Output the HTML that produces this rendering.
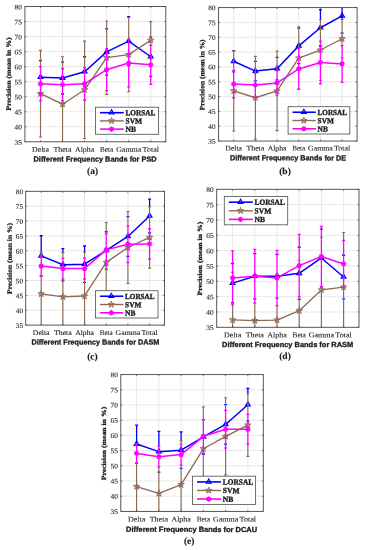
<!DOCTYPE html>
<html><head><meta charset="utf-8"><title>Precision figure</title>
<style>
html,body{margin:0;padding:0;background:#fff;}
svg{display:block;}
text{fill:#1a1a1a;stroke:#1a1a1a;stroke-width:0.15px;}
.tk{stroke-width:0.1px;}
.xl{stroke-width:0.3px;}.lg{stroke-width:0.35px;}.yl{stroke-width:0.25px;}
.tk{font-family:"Liberation Serif",serif;font-size:7.2px;}
.xl{font-family:"Liberation Sans",sans-serif;font-weight:bold;font-size:7.3px;}
.yl{font-family:"Liberation Serif",serif;font-weight:bold;font-size:6.6px;}
.lg{font-family:"Liberation Serif",serif;font-weight:bold;font-size:7.8px;}
.cap{font-family:"Liberation Serif",serif;font-weight:bold;font-size:9.5px;}
</style></head><body>
<svg width="366" height="550" viewBox="0 0 366 550">
<rect width="366" height="550" fill="#fff"/>
<clipPath id="clip_a"><rect x="24.9" y="6.55" width="140.9" height="135.25"/></clipPath>
<path d="M40.5 6.55V141.8M62.55 6.55V141.8M84.6 6.55V141.8M106.65 6.55V141.8M128.7 6.55V141.8M150.75 6.55V141.8M24.9 126.77H165.8M24.9 111.74H165.8M24.9 96.72H165.8M24.9 81.69H165.8M24.9 66.66H165.8M24.9 51.63H165.8M24.9 36.61H165.8M24.9 21.58H165.8" stroke="#e0e0e0" stroke-width="0.7" fill="none"/>
<g clip-path="url(#clip_a)">
<path d="M39 60.65H42M39 93.71H42M61.05 62.15H64.05M61.05 94.01H64.05M83.1 56.74H86.1M83.1 86.8H86.1M105.15 28.79H108.15M105.15 75.08H108.15M128.7 16.62V17.52M127.2 16.62H130.2M127.2 65.61H130.2M149.25 37.21H152.25M149.25 76.28H152.25" stroke="#0000ff" stroke-width="1.3" fill="none"/>
<polyline points="40.5,77.18 62.55,78.08 84.6,71.77 106.65,51.93 128.7,41.11 150.75,56.74" fill="none" stroke="#0000ff" stroke-width="1.5" stroke-linejoin="round"/>
<polygon points="40.5,74.18 38.05,78.48 42.95,78.48" fill="#0000ff" fill-opacity="0.45" stroke="#0000ff" stroke-width="1.1" stroke-linejoin="miter"/>
<polygon points="62.55,75.08 60.1,79.38 65,79.38" fill="#0000ff" fill-opacity="0.45" stroke="#0000ff" stroke-width="1.1" stroke-linejoin="miter"/>
<polygon points="84.6,68.77 82.15,73.07 87.05,73.07" fill="#0000ff" fill-opacity="0.45" stroke="#0000ff" stroke-width="1.1" stroke-linejoin="miter"/>
<polygon points="106.65,48.93 104.2,53.23 109.1,53.23" fill="#0000ff" fill-opacity="0.45" stroke="#0000ff" stroke-width="1.1" stroke-linejoin="miter"/>
<polygon points="128.7,38.11 126.25,42.41 131.15,42.41" fill="#0000ff" fill-opacity="0.45" stroke="#0000ff" stroke-width="1.1" stroke-linejoin="miter"/>
<polygon points="150.75,53.74 148.3,58.04 153.2,58.04" fill="#0000ff" fill-opacity="0.45" stroke="#0000ff" stroke-width="1.1" stroke-linejoin="miter"/>
</g>
<g clip-path="url(#clip_a)">
<path d="M40.5 50.43V66.66M40.5 100.92V136.99M39 50.43H42M39 136.99H42M62.55 56.74V68.77M62.55 100.62V151.72M61.05 56.74H64.05M61.05 151.72H64.05M84.6 41.11V67.56M84.6 100.02V138.49M83.1 41.11H86.1M83.1 138.49H86.1M106.65 20.98V48.63M106.65 90.71V94.31M105.15 20.98H108.15M105.15 94.31H108.15M128.7 17.52V39.31M128.7 86.8V91.76M127.2 17.52H130.2M127.2 91.76H130.2M150.75 21.58V45.32M149.25 21.58H152.25M149.25 58.85H152.25" stroke="#8d6a55" stroke-width="1.15" fill="none"/>
<polyline points="40.5,93.71 62.55,104.23 84.6,89.8 106.65,57.64 128.7,54.64 150.75,40.21" fill="none" stroke="#8d6a55" stroke-width="1.35" stroke-linejoin="round"/>
<polygon points="40.5,90.31 41.3,92.61 43.73,92.66 41.79,94.13 42.5,96.46 40.5,95.07 38.5,96.46 39.21,94.13 37.27,92.66 39.7,92.61" fill="#8d6a55" fill-opacity="0.5" stroke="#8d6a55" stroke-width="0.9" stroke-linejoin="miter"/>
<polygon points="62.55,100.83 63.35,103.13 65.78,103.18 63.84,104.65 64.55,106.98 62.55,105.59 60.55,106.98 61.26,104.65 59.32,103.18 61.75,103.13" fill="#8d6a55" fill-opacity="0.5" stroke="#8d6a55" stroke-width="0.9" stroke-linejoin="miter"/>
<polygon points="84.6,86.4 85.4,88.7 87.83,88.75 85.89,90.22 86.6,92.55 84.6,91.16 82.6,92.55 83.31,90.22 81.37,88.75 83.8,88.7" fill="#8d6a55" fill-opacity="0.5" stroke="#8d6a55" stroke-width="0.9" stroke-linejoin="miter"/>
<polygon points="106.65,54.24 107.45,56.54 109.88,56.59 107.94,58.06 108.65,60.4 106.65,59 104.65,60.4 105.36,58.06 103.42,56.59 105.85,56.54" fill="#8d6a55" fill-opacity="0.5" stroke="#8d6a55" stroke-width="0.9" stroke-linejoin="miter"/>
<polygon points="128.7,51.24 129.5,53.54 131.93,53.59 129.99,55.06 130.7,57.39 128.7,56 126.7,57.39 127.41,55.06 125.47,53.59 127.9,53.54" fill="#8d6a55" fill-opacity="0.5" stroke="#8d6a55" stroke-width="0.9" stroke-linejoin="miter"/>
<polygon points="150.75,36.81 151.55,39.11 153.98,39.16 152.04,40.63 152.75,42.96 150.75,41.57 148.75,42.96 149.46,40.63 147.52,39.16 149.95,39.11" fill="#8d6a55" fill-opacity="0.5" stroke="#8d6a55" stroke-width="0.9" stroke-linejoin="miter"/>
</g>
<g clip-path="url(#clip_a)">
<path d="M40.5 66.66V100.92M39 66.66H42M39 100.92H42M62.55 68.77V100.62M61.05 68.77H64.05M61.05 100.62H64.05M84.6 67.56V100.02M83.1 67.56H86.1M83.1 100.02H86.1M106.65 48.63V90.71M105.15 48.63H108.15M105.15 90.71H108.15M128.7 39.31V86.8M127.2 39.31H130.2M127.2 86.8H130.2M150.75 45.32V84.39M149.25 45.32H152.25M149.25 84.39H152.25" stroke="#ff00ff" stroke-width="1.3" fill="none"/>
<polyline points="40.5,83.79 62.55,84.69 84.6,83.79 106.65,69.67 128.7,63.05 150.75,64.86" fill="none" stroke="#ff00ff" stroke-width="1.5" stroke-linejoin="round"/>
<path d="M40.5 81.09V86.49M37.8 83.79H43.2M38.59 81.88L42.41 85.7M38.59 85.7L42.41 81.88" stroke="#ff00ff" stroke-width="1.3" fill="none"/>
<path d="M62.55 81.99V87.39M59.85 84.69H65.25M60.64 82.79L64.46 86.6M60.64 86.6L64.46 82.79" stroke="#ff00ff" stroke-width="1.3" fill="none"/>
<path d="M84.6 81.09V86.49M81.9 83.79H87.3M82.69 81.88L86.51 85.7M82.69 85.7L86.51 81.88" stroke="#ff00ff" stroke-width="1.3" fill="none"/>
<path d="M106.65 66.97V72.37M103.95 69.67H109.35M104.74 67.76L108.56 71.58M104.74 71.58L108.56 67.76" stroke="#ff00ff" stroke-width="1.3" fill="none"/>
<path d="M128.7 60.35V65.75M126 63.05H131.4M126.79 61.15L130.61 64.96M126.79 64.96L130.61 61.15" stroke="#ff00ff" stroke-width="1.3" fill="none"/>
<path d="M150.75 62.16V67.56M148.05 64.86H153.45M148.84 62.95L152.66 66.77M148.84 66.77L152.66 62.95" stroke="#ff00ff" stroke-width="1.3" fill="none"/>
</g>
<path d="M40.5 141.8V140.3M40.5 6.55V8.05M62.55 141.8V140.3M62.55 6.55V8.05M84.6 141.8V140.3M84.6 6.55V8.05M106.65 141.8V140.3M106.65 6.55V8.05M128.7 141.8V140.3M128.7 6.55V8.05M150.75 141.8V140.3M150.75 6.55V8.05M24.9 141.8H26.4M165.8 141.8H164.3M24.9 126.77H26.4M165.8 126.77H164.3M24.9 111.74H26.4M165.8 111.74H164.3M24.9 96.72H26.4M165.8 96.72H164.3M24.9 81.69H26.4M165.8 81.69H164.3M24.9 66.66H26.4M165.8 66.66H164.3M24.9 51.63H26.4M165.8 51.63H164.3M24.9 36.61H26.4M165.8 36.61H164.3M24.9 21.58H26.4M165.8 21.58H164.3M24.9 6.55H26.4M165.8 6.55H164.3" stroke="#444444" stroke-width="0.7" fill="none"/>
<rect x="24.9" y="6.55" width="140.9" height="135.25" fill="none" stroke="#444444" stroke-width="0.9"/>
<text class="tk" transform="translate(14.62 144.65) rotate(0.05)" textLength="7.28" lengthAdjust="spacingAndGlyphs">35</text>
<text class="tk" transform="translate(14.62 129.62) rotate(0.05)" textLength="7.28" lengthAdjust="spacingAndGlyphs">40</text>
<text class="tk" transform="translate(14.62 114.59) rotate(0.05)" textLength="7.28" lengthAdjust="spacingAndGlyphs">45</text>
<text class="tk" transform="translate(14.62 99.57) rotate(0.05)" textLength="7.28" lengthAdjust="spacingAndGlyphs">50</text>
<text class="tk" transform="translate(14.62 84.54) rotate(0.05)" textLength="7.28" lengthAdjust="spacingAndGlyphs">55</text>
<text class="tk" transform="translate(14.62 69.51) rotate(0.05)" textLength="7.28" lengthAdjust="spacingAndGlyphs">60</text>
<text class="tk" transform="translate(14.62 54.48) rotate(0.05)" textLength="7.28" lengthAdjust="spacingAndGlyphs">65</text>
<text class="tk" transform="translate(14.62 39.46) rotate(0.05)" textLength="7.28" lengthAdjust="spacingAndGlyphs">70</text>
<text class="tk" transform="translate(14.62 24.43) rotate(0.05)" textLength="7.28" lengthAdjust="spacingAndGlyphs">75</text>
<text class="tk" transform="translate(14.62 9.4) rotate(0.05)" textLength="7.28" lengthAdjust="spacingAndGlyphs">80</text>
<text class="tk" transform="translate(32.02 151.7) rotate(0.05)" textLength="16.95" lengthAdjust="spacingAndGlyphs">Delta</text>
<text class="tk" transform="translate(53.53 151.7) rotate(0.05)" textLength="18.05" lengthAdjust="spacingAndGlyphs">Theta</text>
<text class="tk" transform="translate(75.03 151.7) rotate(0.05)" textLength="19.15" lengthAdjust="spacingAndGlyphs">Alpha</text>
<text class="tk" transform="translate(100.07 151.7) rotate(0.05)" textLength="13.16" lengthAdjust="spacingAndGlyphs">Beta</text>
<text class="tk" transform="translate(116.14 151.7) rotate(0.05)" textLength="25.13" lengthAdjust="spacingAndGlyphs">Gamma</text>
<text class="tk" transform="translate(142.57 151.7) rotate(0.05)" textLength="16.35" lengthAdjust="spacingAndGlyphs">Total</text>
<text class="xl" transform="translate(33.55 161.5) rotate(0.05)" textLength="123.1" lengthAdjust="spacingAndGlyphs">Different Frequency Bands for PSD</text>
<text class="yl" transform="translate(10.7 74.15) rotate(-90.05)" x="-36.7" textLength="73.4" lengthAdjust="spacingAndGlyphs">Precision (mean in %)</text>
<text class="cap" transform="translate(92.5 174) rotate(0.05)" text-anchor="middle">(a)</text>
<rect x="95.5" y="107.2" width="63.1" height="27.1" fill="#fff" stroke="#565656" stroke-width="0.85"/>
<path d="M99.99 112.7H123.72" stroke="#0000ff" stroke-width="1.6"/>
<polygon points="111.55,109.7 109.1,114 114,114" fill="#0000ff" fill-opacity="0.15" stroke="#0000ff" stroke-width="1.1" stroke-linejoin="miter"/>
<text class="lg" transform="translate(125.51 115.35) rotate(0.05)" textLength="29.92" lengthAdjust="spacingAndGlyphs">LORSAL</text>
<path d="M99.99 120.91H123.72" stroke="#8d6a55" stroke-width="1.4"/>
<polygon points="111.55,117.51 112.35,119.81 114.79,119.86 112.85,121.33 113.55,123.66 111.55,122.27 109.56,123.66 110.26,121.33 108.32,119.86 110.76,119.81" fill="#8d6a55" fill-opacity="0.5" stroke="#8d6a55" stroke-width="0.9" stroke-linejoin="miter"/>
<text class="lg" transform="translate(125.51 123.56) rotate(0.05)" textLength="16.55" lengthAdjust="spacingAndGlyphs">SVM</text>
<path d="M99.99 129.12H123.72" stroke="#ff00ff" stroke-width="1.6"/>
<path d="M111.55 126.42V131.82M108.85 129.12H114.25M109.65 127.21L113.46 131.03M109.65 131.03L113.46 127.21" stroke="#ff00ff" stroke-width="1.3" fill="none"/>
<text class="lg" transform="translate(125.51 131.77) rotate(0.05)" textLength="10.47" lengthAdjust="spacingAndGlyphs">NB</text>
<clipPath id="clip_b"><rect x="218.6" y="7.6" width="138.5" height="133.45"/></clipPath>
<path d="M233.7 7.6V141.05M255.38 7.6V141.05M277.06 7.6V141.05M298.74 7.6V141.05M320.42 7.6V141.05M342.1 7.6V141.05M218.6 126.22H357.1M218.6 111.39H357.1M218.6 96.57H357.1M218.6 81.74H357.1M218.6 66.91H357.1M218.6 52.08H357.1M218.6 37.26H357.1M218.6 22.43H357.1" stroke="#e0e0e0" stroke-width="0.7" fill="none"/>
<g clip-path="url(#clip_b)">
<path d="M233.7 50.6V50.9M232.2 50.6H235.2M232.2 71.95H235.2M253.88 61.28H256.88M253.88 80.85H256.88M275.56 57.42H278.56M275.56 79.96H278.56M297.24 28.06H300.24M297.24 63.65H300.24M320.42 9.53V19.76M318.92 9.53H321.92M318.92 46H321.92M342.1 -1.3V19.46M340.6 -1.3H343.6M340.6 33.1H343.6" stroke="#0000ff" stroke-width="1.3" fill="none"/>
<polyline points="233.7,61.28 255.38,71.06 277.06,68.69 298.74,45.86 320.42,27.77 342.1,15.9" fill="none" stroke="#0000ff" stroke-width="1.5" stroke-linejoin="round"/>
<polygon points="233.7,58.28 231.25,62.58 236.15,62.58" fill="#0000ff" fill-opacity="0.45" stroke="#0000ff" stroke-width="1.1" stroke-linejoin="miter"/>
<polygon points="255.38,68.06 252.93,72.36 257.83,72.36" fill="#0000ff" fill-opacity="0.45" stroke="#0000ff" stroke-width="1.1" stroke-linejoin="miter"/>
<polygon points="277.06,65.69 274.61,69.99 279.51,69.99" fill="#0000ff" fill-opacity="0.45" stroke="#0000ff" stroke-width="1.1" stroke-linejoin="miter"/>
<polygon points="298.74,42.86 296.29,47.16 301.19,47.16" fill="#0000ff" fill-opacity="0.45" stroke="#0000ff" stroke-width="1.1" stroke-linejoin="miter"/>
<polygon points="320.42,24.77 317.97,29.07 322.87,29.07" fill="#0000ff" fill-opacity="0.45" stroke="#0000ff" stroke-width="1.1" stroke-linejoin="miter"/>
<polygon points="342.1,12.9 339.65,17.2 344.55,17.2" fill="#0000ff" fill-opacity="0.45" stroke="#0000ff" stroke-width="1.1" stroke-linejoin="miter"/>
</g>
<g clip-path="url(#clip_b)">
<path d="M233.7 50.9V70.47M233.7 97.75V130.97M232.2 50.9H235.2M232.2 130.97H235.2M255.38 56.24V73.14M255.38 96.86V139.27M253.88 56.24H256.88M253.88 139.27H256.88M277.06 51.19V70.77M277.06 95.08V130.67M275.56 51.19H278.56M275.56 130.67H278.56M298.74 26.88V48.52M297.24 26.88H300.24M297.24 89.15H300.24M320.42 19.76V41.11M318.92 19.76H321.92M318.92 80.26H321.92M342.1 19.46V45.56M340.6 19.46H343.6M340.6 58.01H343.6" stroke="#8d6a55" stroke-width="1.15" fill="none"/>
<polyline points="233.7,90.93 255.38,97.75 277.06,90.93 298.74,58.01 320.42,50.01 342.1,38.74" fill="none" stroke="#8d6a55" stroke-width="1.35" stroke-linejoin="round"/>
<polygon points="233.7,87.53 234.5,89.83 236.93,89.88 234.99,91.35 235.7,93.68 233.7,92.29 231.7,93.68 232.41,91.35 230.47,89.88 232.9,89.83" fill="#8d6a55" fill-opacity="0.5" stroke="#8d6a55" stroke-width="0.9" stroke-linejoin="miter"/>
<polygon points="255.38,94.35 256.18,96.65 258.61,96.7 256.67,98.17 257.38,100.5 255.38,99.11 253.38,100.5 254.09,98.17 252.15,96.7 254.58,96.65" fill="#8d6a55" fill-opacity="0.5" stroke="#8d6a55" stroke-width="0.9" stroke-linejoin="miter"/>
<polygon points="277.06,87.53 277.86,89.83 280.29,89.88 278.35,91.35 279.06,93.68 277.06,92.29 275.06,93.68 275.77,91.35 273.83,89.88 276.26,89.83" fill="#8d6a55" fill-opacity="0.5" stroke="#8d6a55" stroke-width="0.9" stroke-linejoin="miter"/>
<polygon points="298.74,54.61 299.54,56.91 301.97,56.96 300.03,58.43 300.74,60.77 298.74,59.37 296.74,60.77 297.45,58.43 295.51,56.96 297.94,56.91" fill="#8d6a55" fill-opacity="0.5" stroke="#8d6a55" stroke-width="0.9" stroke-linejoin="miter"/>
<polygon points="320.42,46.61 321.22,48.91 323.65,48.96 321.71,50.43 322.42,52.76 320.42,51.37 318.42,52.76 319.13,50.43 317.19,48.96 319.62,48.91" fill="#8d6a55" fill-opacity="0.5" stroke="#8d6a55" stroke-width="0.9" stroke-linejoin="miter"/>
<polygon points="342.1,35.34 342.9,37.64 345.33,37.69 343.39,39.16 344.1,41.49 342.1,40.1 340.1,41.49 340.81,39.16 338.87,37.69 341.3,37.64" fill="#8d6a55" fill-opacity="0.5" stroke="#8d6a55" stroke-width="0.9" stroke-linejoin="miter"/>
</g>
<g clip-path="url(#clip_b)">
<path d="M233.7 70.47V97.75M232.2 70.47H235.2M232.2 97.75H235.2M255.38 73.14V96.86M253.88 73.14H256.88M253.88 96.86H256.88M277.06 70.77V95.08M275.56 70.77H278.56M275.56 95.08H278.56M298.74 48.52V89.45M297.24 48.52H300.24M297.24 89.45H300.24M320.42 41.11V83.81M318.92 41.11H321.92M318.92 83.81H321.92M342.1 45.56V82.33M340.6 45.56H343.6M340.6 82.33H343.6" stroke="#ff00ff" stroke-width="1.3" fill="none"/>
<polyline points="233.7,84.11 255.38,85 277.06,82.93 298.74,68.99 320.42,62.46 342.1,63.95" fill="none" stroke="#ff00ff" stroke-width="1.5" stroke-linejoin="round"/>
<path d="M233.7 81.41V86.81M231 84.11H236.4M231.79 82.2L235.61 86.02M231.79 86.02L235.61 82.2" stroke="#ff00ff" stroke-width="1.3" fill="none"/>
<path d="M255.38 82.3V87.7M252.68 85H258.08M253.47 83.09L257.29 86.91M253.47 86.91L257.29 83.09" stroke="#ff00ff" stroke-width="1.3" fill="none"/>
<path d="M277.06 80.23V85.63M274.36 82.93H279.76M275.15 81.02L278.97 84.83M275.15 84.83L278.97 81.02" stroke="#ff00ff" stroke-width="1.3" fill="none"/>
<path d="M298.74 66.29V71.69M296.04 68.99H301.44M296.83 67.08L300.65 70.9M296.83 70.9L300.65 67.08" stroke="#ff00ff" stroke-width="1.3" fill="none"/>
<path d="M320.42 59.76V65.16M317.72 62.46H323.12M318.51 60.55L322.33 64.37M318.51 64.37L322.33 60.55" stroke="#ff00ff" stroke-width="1.3" fill="none"/>
<path d="M342.1 61.25V66.65M339.4 63.95H344.8M340.19 62.04L344.01 65.85M340.19 65.85L344.01 62.04" stroke="#ff00ff" stroke-width="1.3" fill="none"/>
</g>
<path d="M233.7 141.05V139.55M233.7 7.6V9.1M255.38 141.05V139.55M255.38 7.6V9.1M277.06 141.05V139.55M277.06 7.6V9.1M298.74 141.05V139.55M298.74 7.6V9.1M320.42 141.05V139.55M320.42 7.6V9.1M342.1 141.05V139.55M342.1 7.6V9.1M218.6 141.05H220.1M357.1 141.05H355.6M218.6 126.22H220.1M357.1 126.22H355.6M218.6 111.39H220.1M357.1 111.39H355.6M218.6 96.57H220.1M357.1 96.57H355.6M218.6 81.74H220.1M357.1 81.74H355.6M218.6 66.91H220.1M357.1 66.91H355.6M218.6 52.08H220.1M357.1 52.08H355.6M218.6 37.26H220.1M357.1 37.26H355.6M218.6 22.43H220.1M357.1 22.43H355.6M218.6 7.6H220.1M357.1 7.6H355.6" stroke="#444444" stroke-width="0.7" fill="none"/>
<rect x="218.6" y="7.6" width="138.5" height="133.45" fill="none" stroke="#444444" stroke-width="0.9"/>
<text class="tk" transform="translate(208.34 143.75) rotate(0.05)" textLength="7.16" lengthAdjust="spacingAndGlyphs">35</text>
<text class="tk" transform="translate(208.34 128.92) rotate(0.05)" textLength="7.16" lengthAdjust="spacingAndGlyphs">40</text>
<text class="tk" transform="translate(208.34 114.09) rotate(0.05)" textLength="7.16" lengthAdjust="spacingAndGlyphs">45</text>
<text class="tk" transform="translate(208.34 99.27) rotate(0.05)" textLength="7.16" lengthAdjust="spacingAndGlyphs">50</text>
<text class="tk" transform="translate(208.34 84.44) rotate(0.05)" textLength="7.16" lengthAdjust="spacingAndGlyphs">55</text>
<text class="tk" transform="translate(208.34 69.61) rotate(0.05)" textLength="7.16" lengthAdjust="spacingAndGlyphs">60</text>
<text class="tk" transform="translate(208.34 54.78) rotate(0.05)" textLength="7.16" lengthAdjust="spacingAndGlyphs">65</text>
<text class="tk" transform="translate(208.34 39.96) rotate(0.05)" textLength="7.16" lengthAdjust="spacingAndGlyphs">70</text>
<text class="tk" transform="translate(208.34 25.13) rotate(0.05)" textLength="7.16" lengthAdjust="spacingAndGlyphs">75</text>
<text class="tk" transform="translate(208.34 10.3) rotate(0.05)" textLength="7.16" lengthAdjust="spacingAndGlyphs">80</text>
<text class="tk" transform="translate(225.37 150.6) rotate(0.05)" textLength="16.66" lengthAdjust="spacingAndGlyphs">Delta</text>
<text class="tk" transform="translate(246.51 150.6) rotate(0.05)" textLength="17.74" lengthAdjust="spacingAndGlyphs">Theta</text>
<text class="tk" transform="translate(267.65 150.6) rotate(0.05)" textLength="18.82" lengthAdjust="spacingAndGlyphs">Alpha</text>
<text class="tk" transform="translate(292.27 150.6) rotate(0.05)" textLength="12.94" lengthAdjust="spacingAndGlyphs">Beta</text>
<text class="tk" transform="translate(308.07 150.6) rotate(0.05)" textLength="24.7" lengthAdjust="spacingAndGlyphs">Gamma</text>
<text class="tk" transform="translate(334.06 150.6) rotate(0.05)" textLength="16.08" lengthAdjust="spacingAndGlyphs">Total</text>
<text class="xl" transform="translate(229.9 160.3) rotate(0.05)" textLength="116.2" lengthAdjust="spacingAndGlyphs">Different Frequency Bands for DE</text>
<text class="yl" transform="translate(204.2 74.8) rotate(-90.05)" x="-35.4" textLength="70.8" lengthAdjust="spacingAndGlyphs">Precision (mean in %)</text>
<text class="cap" transform="translate(285 174.3) rotate(0.05)" text-anchor="middle">(b)</text>
<rect x="288.1" y="106.7" width="61.7" height="27.3" fill="#fff" stroke="#565656" stroke-width="0.85"/>
<path d="M292.51 112.24H315.84" stroke="#0000ff" stroke-width="1.6"/>
<polygon points="303.88,109.24 301.43,113.54 306.33,113.54" fill="#0000ff" fill-opacity="0.15" stroke="#0000ff" stroke-width="1.1" stroke-linejoin="miter"/>
<text class="lg" transform="translate(317.6 114.89) rotate(0.05)" textLength="29.41" lengthAdjust="spacingAndGlyphs">LORSAL</text>
<path d="M292.51 120.51H315.84" stroke="#8d6a55" stroke-width="1.4"/>
<polygon points="303.88,117.11 304.68,119.41 307.11,119.46 305.17,120.93 305.88,123.26 303.88,121.87 301.88,123.26 302.59,120.93 300.65,119.46 303.08,119.41" fill="#8d6a55" fill-opacity="0.5" stroke="#8d6a55" stroke-width="0.9" stroke-linejoin="miter"/>
<text class="lg" transform="translate(317.6 123.16) rotate(0.05)" textLength="16.27" lengthAdjust="spacingAndGlyphs">SVM</text>
<path d="M292.51 128.79H315.84" stroke="#ff00ff" stroke-width="1.6"/>
<path d="M303.88 126.09V131.49M301.18 128.79H306.58M301.97 126.88L305.79 130.69M301.97 130.69L305.79 126.88" stroke="#ff00ff" stroke-width="1.3" fill="none"/>
<text class="lg" transform="translate(317.6 131.44) rotate(0.05)" textLength="10.29" lengthAdjust="spacingAndGlyphs">NB</text>
<clipPath id="clip_c"><rect x="25.7" y="191.3" width="138.8" height="133.8"/></clipPath>
<path d="M41.2 191.3V325.1M62.88 191.3V325.1M84.56 191.3V325.1M106.24 191.3V325.1M127.92 191.3V325.1M149.6 191.3V325.1M25.7 310.23H164.5M25.7 295.37H164.5M25.7 280.5H164.5M25.7 265.63H164.5M25.7 250.77H164.5M25.7 235.9H164.5M25.7 221.03H164.5M25.7 206.17H164.5" stroke="#e0e0e0" stroke-width="0.7" fill="none"/>
<g clip-path="url(#clip_c)">
<path d="M41.2 235.75V252.25M39.7 235.75H42.7M39.7 275.89H42.7M62.88 248.69V252.55M61.38 248.69H64.38M61.38 280.8H64.38M84.56 246.01V252.25M83.06 246.01H86.06M83.06 282.28H86.06M104.74 231.74H107.74M104.74 269.2H107.74M126.42 216.57H129.42M126.42 256.42H129.42M149.6 199.03V206.61M148.1 199.03H151.1M148.1 232.93H151.1" stroke="#0000ff" stroke-width="1.3" fill="none"/>
<polyline points="41.2,255.82 62.88,264.74 84.56,264.15 106.24,250.47 127.92,236.49 149.6,215.98" fill="none" stroke="#0000ff" stroke-width="1.5" stroke-linejoin="round"/>
<polygon points="41.2,252.82 38.75,257.12 43.65,257.12" fill="#0000ff" fill-opacity="0.45" stroke="#0000ff" stroke-width="1.1" stroke-linejoin="miter"/>
<polygon points="62.88,261.74 60.43,266.04 65.33,266.04" fill="#0000ff" fill-opacity="0.45" stroke="#0000ff" stroke-width="1.1" stroke-linejoin="miter"/>
<polygon points="84.56,261.15 82.11,265.45 87.01,265.45" fill="#0000ff" fill-opacity="0.45" stroke="#0000ff" stroke-width="1.1" stroke-linejoin="miter"/>
<polygon points="106.24,247.47 103.79,251.77 108.69,251.77" fill="#0000ff" fill-opacity="0.45" stroke="#0000ff" stroke-width="1.1" stroke-linejoin="miter"/>
<polygon points="127.92,233.49 125.47,237.79 130.37,237.79" fill="#0000ff" fill-opacity="0.45" stroke="#0000ff" stroke-width="1.1" stroke-linejoin="miter"/>
<polygon points="149.6,212.98 147.15,217.28 152.05,217.28" fill="#0000ff" fill-opacity="0.45" stroke="#0000ff" stroke-width="1.1" stroke-linejoin="miter"/>
</g>
<g clip-path="url(#clip_c)">
<path d="M41.2 252.25V256.12M41.2 276.04V335.51M39.7 252.25H42.7M39.7 335.51H42.7M62.88 252.55V258.2M62.88 279.01V341.16M61.38 252.55H64.38M61.38 341.16H64.38M84.56 252.25V258.2M84.56 279.01V339.67M83.06 252.25H86.06M83.06 339.67H86.06M106.24 222.52V233.97M106.24 265.78V302.21M104.74 222.52H107.74M104.74 302.21H107.74M127.92 211.52V225.79M127.92 262.66V283.47M126.42 211.52H129.42M126.42 283.47H129.42M149.6 206.61V228.76M149.6 259.09V268.16M148.1 206.61H151.1M148.1 268.16H151.1" stroke="#8d6a55" stroke-width="1.15" fill="none"/>
<polyline points="41.2,293.88 62.88,296.85 84.56,295.96 106.24,262.36 127.92,247.5 149.6,237.39" fill="none" stroke="#8d6a55" stroke-width="1.35" stroke-linejoin="round"/>
<polygon points="41.2,290.48 42,292.78 44.43,292.83 42.49,294.3 43.2,296.63 41.2,295.24 39.2,296.63 39.91,294.3 37.97,292.83 40.4,292.78" fill="#8d6a55" fill-opacity="0.5" stroke="#8d6a55" stroke-width="0.9" stroke-linejoin="miter"/>
<polygon points="62.88,293.45 63.68,295.75 66.11,295.8 64.17,297.27 64.88,299.6 62.88,298.21 60.88,299.6 61.59,297.27 59.65,295.8 62.08,295.75" fill="#8d6a55" fill-opacity="0.5" stroke="#8d6a55" stroke-width="0.9" stroke-linejoin="miter"/>
<polygon points="84.56,292.56 85.36,294.86 87.79,294.91 85.85,296.38 86.56,298.71 84.56,297.32 82.56,298.71 83.27,296.38 81.33,294.91 83.76,294.86" fill="#8d6a55" fill-opacity="0.5" stroke="#8d6a55" stroke-width="0.9" stroke-linejoin="miter"/>
<polygon points="106.24,258.96 107.04,261.26 109.47,261.31 107.53,262.78 108.24,265.11 106.24,263.72 104.24,265.11 104.95,262.78 103.01,261.31 105.44,261.26" fill="#8d6a55" fill-opacity="0.5" stroke="#8d6a55" stroke-width="0.9" stroke-linejoin="miter"/>
<polygon points="127.92,244.1 128.72,246.4 131.15,246.45 129.21,247.92 129.92,250.25 127.92,248.86 125.92,250.25 126.63,247.92 124.69,246.45 127.12,246.4" fill="#8d6a55" fill-opacity="0.5" stroke="#8d6a55" stroke-width="0.9" stroke-linejoin="miter"/>
<polygon points="149.6,233.99 150.4,236.29 152.83,236.34 150.89,237.81 151.6,240.14 149.6,238.75 147.6,240.14 148.31,237.81 146.37,236.34 148.8,236.29" fill="#8d6a55" fill-opacity="0.5" stroke="#8d6a55" stroke-width="0.9" stroke-linejoin="miter"/>
</g>
<g clip-path="url(#clip_c)">
<path d="M41.2 256.12V276.04M39.7 256.12H42.7M39.7 276.04H42.7M62.88 258.2V279.01M61.38 258.2H64.38M61.38 279.01H64.38M84.56 258.2V279.01M83.06 258.2H86.06M83.06 279.01H86.06M106.24 233.97V265.78M104.74 233.97H107.74M104.74 265.78H107.74M127.92 225.79V262.66M126.42 225.79H129.42M126.42 262.66H129.42M149.6 228.76V259.09M148.1 228.76H151.1M148.1 259.09H151.1" stroke="#ff00ff" stroke-width="1.3" fill="none"/>
<polyline points="41.2,266.08 62.88,268.61 84.56,268.61 106.24,249.87 127.92,244.23 149.6,243.93" fill="none" stroke="#ff00ff" stroke-width="1.5" stroke-linejoin="round"/>
<path d="M41.2 263.38V268.78M38.5 266.08H43.9M39.29 264.17L43.11 267.99M39.29 267.99L43.11 264.17" stroke="#ff00ff" stroke-width="1.3" fill="none"/>
<path d="M62.88 265.91V271.31M60.18 268.61H65.58M60.97 266.7L64.79 270.52M60.97 270.52L64.79 266.7" stroke="#ff00ff" stroke-width="1.3" fill="none"/>
<path d="M84.56 265.91V271.31M81.86 268.61H87.26M82.65 266.7L86.47 270.52M82.65 270.52L86.47 266.7" stroke="#ff00ff" stroke-width="1.3" fill="none"/>
<path d="M106.24 247.17V252.57M103.54 249.87H108.94M104.33 247.97L108.15 251.78M104.33 251.78L108.15 247.97" stroke="#ff00ff" stroke-width="1.3" fill="none"/>
<path d="M127.92 241.53V246.93M125.22 244.23H130.62M126.01 242.32L129.83 246.13M126.01 246.13L129.83 242.32" stroke="#ff00ff" stroke-width="1.3" fill="none"/>
<path d="M149.6 241.23V246.63M146.9 243.93H152.3M147.69 242.02L151.51 245.84M147.69 245.84L151.51 242.02" stroke="#ff00ff" stroke-width="1.3" fill="none"/>
</g>
<path d="M41.2 325.1V323.6M41.2 191.3V192.8M62.88 325.1V323.6M62.88 191.3V192.8M84.56 325.1V323.6M84.56 191.3V192.8M106.24 325.1V323.6M106.24 191.3V192.8M127.92 325.1V323.6M127.92 191.3V192.8M149.6 325.1V323.6M149.6 191.3V192.8M25.7 325.1H27.2M164.5 325.1H163M25.7 310.23H27.2M164.5 310.23H163M25.7 295.37H27.2M164.5 295.37H163M25.7 280.5H27.2M164.5 280.5H163M25.7 265.63H27.2M164.5 265.63H163M25.7 250.77H27.2M164.5 250.77H163M25.7 235.9H27.2M164.5 235.9H163M25.7 221.03H27.2M164.5 221.03H163M25.7 206.17H27.2M164.5 206.17H163M25.7 191.3H27.2M164.5 191.3H163" stroke="#444444" stroke-width="0.7" fill="none"/>
<rect x="25.7" y="191.3" width="138.8" height="133.8" fill="none" stroke="#444444" stroke-width="0.9"/>
<text class="tk" transform="translate(15.83 328.05) rotate(0.05)" textLength="7.17" lengthAdjust="spacingAndGlyphs">35</text>
<text class="tk" transform="translate(15.83 313.18) rotate(0.05)" textLength="7.17" lengthAdjust="spacingAndGlyphs">40</text>
<text class="tk" transform="translate(15.83 298.32) rotate(0.05)" textLength="7.17" lengthAdjust="spacingAndGlyphs">45</text>
<text class="tk" transform="translate(15.83 283.45) rotate(0.05)" textLength="7.17" lengthAdjust="spacingAndGlyphs">50</text>
<text class="tk" transform="translate(15.83 268.58) rotate(0.05)" textLength="7.17" lengthAdjust="spacingAndGlyphs">55</text>
<text class="tk" transform="translate(15.83 253.72) rotate(0.05)" textLength="7.17" lengthAdjust="spacingAndGlyphs">60</text>
<text class="tk" transform="translate(15.83 238.85) rotate(0.05)" textLength="7.17" lengthAdjust="spacingAndGlyphs">65</text>
<text class="tk" transform="translate(15.83 223.98) rotate(0.05)" textLength="7.17" lengthAdjust="spacingAndGlyphs">70</text>
<text class="tk" transform="translate(15.83 209.12) rotate(0.05)" textLength="7.17" lengthAdjust="spacingAndGlyphs">75</text>
<text class="tk" transform="translate(15.83 194.25) rotate(0.05)" textLength="7.17" lengthAdjust="spacingAndGlyphs">80</text>
<text class="tk" transform="translate(32.85 334.9) rotate(0.05)" textLength="16.7" lengthAdjust="spacingAndGlyphs">Delta</text>
<text class="tk" transform="translate(53.99 334.9) rotate(0.05)" textLength="17.78" lengthAdjust="spacingAndGlyphs">Theta</text>
<text class="tk" transform="translate(75.13 334.9) rotate(0.05)" textLength="18.86" lengthAdjust="spacingAndGlyphs">Alpha</text>
<text class="tk" transform="translate(99.76 334.9) rotate(0.05)" textLength="12.97" lengthAdjust="spacingAndGlyphs">Beta</text>
<text class="tk" transform="translate(115.54 334.9) rotate(0.05)" textLength="24.75" lengthAdjust="spacingAndGlyphs">Gamma</text>
<text class="tk" transform="translate(141.55 334.9) rotate(0.05)" textLength="16.11" lengthAdjust="spacingAndGlyphs">Total</text>
<text class="xl" transform="translate(31.4 344.4) rotate(0.05)" textLength="128" lengthAdjust="spacingAndGlyphs">Different Frequency Bands for DASM</text>
<text class="yl" transform="translate(11.8 258.6) rotate(-90.05)" x="-35.5" textLength="71" lengthAdjust="spacingAndGlyphs">Precision (mean in %)</text>
<text class="cap" transform="translate(92.4 359.6) rotate(0.05)" text-anchor="middle">(c)</text>
<rect x="95.5" y="290.7" width="62.5" height="27.3" fill="#fff" stroke="#565656" stroke-width="0.85"/>
<path d="M99.92 296.24H123.3" stroke="#0000ff" stroke-width="1.6"/>
<polygon points="111.32,293.24 108.87,297.54 113.77,297.54" fill="#0000ff" fill-opacity="0.15" stroke="#0000ff" stroke-width="1.1" stroke-linejoin="miter"/>
<text class="lg" transform="translate(125.07 298.89) rotate(0.05)" textLength="29.47" lengthAdjust="spacingAndGlyphs">LORSAL</text>
<path d="M99.92 304.51H123.3" stroke="#8d6a55" stroke-width="1.4"/>
<polygon points="111.32,301.11 112.11,303.41 114.55,303.46 112.61,304.93 113.31,307.26 111.32,305.87 109.32,307.26 110.02,304.93 108.08,303.46 110.52,303.41" fill="#8d6a55" fill-opacity="0.5" stroke="#8d6a55" stroke-width="0.9" stroke-linejoin="miter"/>
<text class="lg" transform="translate(125.07 307.16) rotate(0.05)" textLength="16.31" lengthAdjust="spacingAndGlyphs">SVM</text>
<path d="M99.92 312.79H123.3" stroke="#ff00ff" stroke-width="1.6"/>
<path d="M111.32 310.09V315.49M108.62 312.79H114.02M109.41 310.88L113.22 314.69M109.41 314.69L113.22 310.88" stroke="#ff00ff" stroke-width="1.3" fill="none"/>
<text class="lg" transform="translate(125.07 315.44) rotate(0.05)" textLength="10.31" lengthAdjust="spacingAndGlyphs">NB</text>
<clipPath id="clip_d"><rect x="216.7" y="189.3" width="142.3" height="138"/></clipPath>
<path d="M232.6 189.3V327.3M254.8 189.3V327.3M277 189.3V327.3M299.2 189.3V327.3M321.4 189.3V327.3M343.6 189.3V327.3M216.7 311.97H359M216.7 296.63H359M216.7 281.3H359M216.7 265.97H359M216.7 250.63H359M216.7 235.3H359M216.7 219.97H359M216.7 204.63H359" stroke="#e0e0e0" stroke-width="0.7" fill="none"/>
<g clip-path="url(#clip_d)">
<path d="M231.1 263.51H234.1M231.1 302.77H234.1M253.3 253.7H256.3M253.3 298.78H256.3M275.5 254.31H278.5M275.5 298.17H278.5M297.7 247.26H300.7M297.7 299.39H300.7M319.9 229.17H322.9M319.9 286.82H322.9M342.1 255.23H345.1M342.1 298.78H345.1" stroke="#0000ff" stroke-width="1.3" fill="none"/>
<polyline points="232.6,283.14 254.8,276.24 277,276.24 299.2,273.33 321.4,257.99 343.6,277.01" fill="none" stroke="#0000ff" stroke-width="1.5" stroke-linejoin="round"/>
<polygon points="232.6,280.14 230.15,284.44 235.05,284.44" fill="#0000ff" fill-opacity="0.45" stroke="#0000ff" stroke-width="1.1" stroke-linejoin="miter"/>
<polygon points="254.8,273.24 252.35,277.54 257.25,277.54" fill="#0000ff" fill-opacity="0.45" stroke="#0000ff" stroke-width="1.1" stroke-linejoin="miter"/>
<polygon points="277,273.24 274.55,277.54 279.45,277.54" fill="#0000ff" fill-opacity="0.45" stroke="#0000ff" stroke-width="1.1" stroke-linejoin="miter"/>
<polygon points="299.2,270.33 296.75,274.63 301.65,274.63" fill="#0000ff" fill-opacity="0.45" stroke="#0000ff" stroke-width="1.1" stroke-linejoin="miter"/>
<polygon points="321.4,254.99 318.95,259.29 323.85,259.29" fill="#0000ff" fill-opacity="0.45" stroke="#0000ff" stroke-width="1.1" stroke-linejoin="miter"/>
<polygon points="343.6,274.01 341.15,278.31 346.05,278.31" fill="#0000ff" fill-opacity="0.45" stroke="#0000ff" stroke-width="1.1" stroke-linejoin="miter"/>
</g>
<g clip-path="url(#clip_d)">
<path d="M232.6 304.91V367.47M231.1 272.41H234.1M231.1 367.47H234.1M254.8 303.07V366.55M253.3 274.55H256.3M253.3 366.55H256.3M277 305.53V366.09M275.5 274.09H278.5M275.5 366.09H278.5M299.2 296.94V361.19M297.7 260.29H300.7M297.7 361.19H300.7M321.4 286.51V342.48M319.9 237.29H322.9M319.9 342.48H322.9M343.6 232.54V240.51M343.6 287.43V341.71M342.1 232.54H345.1M342.1 341.71H345.1" stroke="#8d6a55" stroke-width="1.15" fill="none"/>
<polyline points="232.6,319.94 254.8,320.55 277,320.09 299.2,310.74 321.4,289.89 343.6,287.13" fill="none" stroke="#8d6a55" stroke-width="1.35" stroke-linejoin="round"/>
<polygon points="232.6,316.54 233.4,318.84 235.83,318.89 233.89,320.36 234.6,322.69 232.6,321.3 230.6,322.69 231.31,320.36 229.37,318.89 231.8,318.84" fill="#8d6a55" fill-opacity="0.5" stroke="#8d6a55" stroke-width="0.9" stroke-linejoin="miter"/>
<polygon points="254.8,317.15 255.6,319.45 258.03,319.5 256.09,320.97 256.8,323.3 254.8,321.91 252.8,323.3 253.51,320.97 251.57,319.5 254,319.45" fill="#8d6a55" fill-opacity="0.5" stroke="#8d6a55" stroke-width="0.9" stroke-linejoin="miter"/>
<polygon points="277,316.69 277.8,318.99 280.23,319.04 278.29,320.51 279,322.84 277,321.45 275,322.84 275.71,320.51 273.77,319.04 276.2,318.99" fill="#8d6a55" fill-opacity="0.5" stroke="#8d6a55" stroke-width="0.9" stroke-linejoin="miter"/>
<polygon points="299.2,307.34 300,309.64 302.43,309.69 300.49,311.16 301.2,313.49 299.2,312.1 297.2,313.49 297.91,311.16 295.97,309.69 298.4,309.64" fill="#8d6a55" fill-opacity="0.5" stroke="#8d6a55" stroke-width="0.9" stroke-linejoin="miter"/>
<polygon points="321.4,286.49 322.2,288.79 324.63,288.84 322.69,290.31 323.4,292.64 321.4,291.25 319.4,292.64 320.11,290.31 318.17,288.84 320.6,288.79" fill="#8d6a55" fill-opacity="0.5" stroke="#8d6a55" stroke-width="0.9" stroke-linejoin="miter"/>
<polygon points="343.6,283.73 344.4,286.03 346.83,286.08 344.89,287.55 345.6,289.88 343.6,288.49 341.6,289.88 342.31,287.55 340.37,286.08 342.8,286.03" fill="#8d6a55" fill-opacity="0.5" stroke="#8d6a55" stroke-width="0.9" stroke-linejoin="miter"/>
</g>
<g clip-path="url(#clip_d)">
<path d="M232.6 250.94V304.91M231.1 250.94H234.1M231.1 304.91H234.1M254.8 249.41V303.07M253.3 249.41H256.3M253.3 303.07H256.3M277 250.33V305.53M275.5 250.33H278.5M275.5 305.53H278.5M299.2 234.38V296.94M297.7 234.38H300.7M297.7 296.94H300.7M321.4 226.41V286.51M319.9 226.41H322.9M319.9 286.51H322.9M343.6 240.51V287.43M342.1 240.51H345.1M342.1 287.43H345.1" stroke="#ff00ff" stroke-width="1.3" fill="none"/>
<polyline points="232.6,277.93 254.8,276.24 277,277.93 299.2,265.66 321.4,256.46 343.6,263.97" fill="none" stroke="#ff00ff" stroke-width="1.5" stroke-linejoin="round"/>
<path d="M232.6 275.23V280.63M229.9 277.93H235.3M230.69 276.02L234.51 279.84M230.69 279.84L234.51 276.02" stroke="#ff00ff" stroke-width="1.3" fill="none"/>
<path d="M254.8 273.54V278.94M252.1 276.24H257.5M252.89 274.33L256.71 278.15M252.89 278.15L256.71 274.33" stroke="#ff00ff" stroke-width="1.3" fill="none"/>
<path d="M277 275.23V280.63M274.3 277.93H279.7M275.09 276.02L278.91 279.84M275.09 279.84L278.91 276.02" stroke="#ff00ff" stroke-width="1.3" fill="none"/>
<path d="M299.2 262.96V268.36M296.5 265.66H301.9M297.29 263.75L301.11 267.57M297.29 267.57L301.11 263.75" stroke="#ff00ff" stroke-width="1.3" fill="none"/>
<path d="M321.4 253.76V259.16M318.7 256.46H324.1M319.49 254.55L323.31 258.37M319.49 258.37L323.31 254.55" stroke="#ff00ff" stroke-width="1.3" fill="none"/>
<path d="M343.6 261.27V266.67M340.9 263.97H346.3M341.69 262.06L345.51 265.88M341.69 265.88L345.51 262.06" stroke="#ff00ff" stroke-width="1.3" fill="none"/>
</g>
<path d="M232.6 327.3V325.8M232.6 189.3V190.8M254.8 327.3V325.8M254.8 189.3V190.8M277 327.3V325.8M277 189.3V190.8M299.2 327.3V325.8M299.2 189.3V190.8M321.4 327.3V325.8M321.4 189.3V190.8M343.6 327.3V325.8M343.6 189.3V190.8M216.7 327.3H218.2M359 327.3H357.5M216.7 311.97H218.2M359 311.97H357.5M216.7 296.63H218.2M359 296.63H357.5M216.7 281.3H218.2M359 281.3H357.5M216.7 265.97H218.2M359 265.97H357.5M216.7 250.63H218.2M359 250.63H357.5M216.7 235.3H218.2M359 235.3H357.5M216.7 219.97H218.2M359 219.97H357.5M216.7 204.63H218.2M359 204.63H357.5M216.7 189.3H218.2M359 189.3H357.5" stroke="#444444" stroke-width="0.7" fill="none"/>
<rect x="216.7" y="189.3" width="142.3" height="138" fill="none" stroke="#444444" stroke-width="0.9"/>
<text class="tk" transform="translate(206.25 330.05) rotate(0.05)" textLength="7.35" lengthAdjust="spacingAndGlyphs">35</text>
<text class="tk" transform="translate(206.25 314.72) rotate(0.05)" textLength="7.35" lengthAdjust="spacingAndGlyphs">40</text>
<text class="tk" transform="translate(206.25 299.38) rotate(0.05)" textLength="7.35" lengthAdjust="spacingAndGlyphs">45</text>
<text class="tk" transform="translate(206.25 284.05) rotate(0.05)" textLength="7.35" lengthAdjust="spacingAndGlyphs">50</text>
<text class="tk" transform="translate(206.25 268.72) rotate(0.05)" textLength="7.35" lengthAdjust="spacingAndGlyphs">55</text>
<text class="tk" transform="translate(206.25 253.38) rotate(0.05)" textLength="7.35" lengthAdjust="spacingAndGlyphs">60</text>
<text class="tk" transform="translate(206.25 238.05) rotate(0.05)" textLength="7.35" lengthAdjust="spacingAndGlyphs">65</text>
<text class="tk" transform="translate(206.25 222.72) rotate(0.05)" textLength="7.35" lengthAdjust="spacingAndGlyphs">70</text>
<text class="tk" transform="translate(206.25 207.38) rotate(0.05)" textLength="7.35" lengthAdjust="spacingAndGlyphs">75</text>
<text class="tk" transform="translate(206.25 192.05) rotate(0.05)" textLength="7.35" lengthAdjust="spacingAndGlyphs">80</text>
<text class="tk" transform="translate(224.04 337.15) rotate(0.05)" textLength="17.12" lengthAdjust="spacingAndGlyphs">Delta</text>
<text class="tk" transform="translate(245.69 337.15) rotate(0.05)" textLength="18.23" lengthAdjust="spacingAndGlyphs">Theta</text>
<text class="tk" transform="translate(267.33 337.15) rotate(0.05)" textLength="19.34" lengthAdjust="spacingAndGlyphs">Alpha</text>
<text class="tk" transform="translate(292.55 337.15) rotate(0.05)" textLength="13.29" lengthAdjust="spacingAndGlyphs">Beta</text>
<text class="tk" transform="translate(308.71 337.15) rotate(0.05)" textLength="25.38" lengthAdjust="spacingAndGlyphs">Gamma</text>
<text class="tk" transform="translate(335.34 337.15) rotate(0.05)" textLength="16.52" lengthAdjust="spacingAndGlyphs">Total</text>
<text class="xl" transform="translate(222.1 346.9) rotate(0.05)" textLength="131.2" lengthAdjust="spacingAndGlyphs">Different Frequency Bands for RASM</text>
<text class="yl" transform="translate(202 258.6) rotate(-90.05)" x="-37" textLength="74" lengthAdjust="spacingAndGlyphs">Precision (mean in %)</text>
<text class="cap" transform="translate(285 358.9) rotate(0.05)" text-anchor="middle">(d)</text>
<rect x="224.3" y="196.4" width="63.4" height="28.4" fill="#fff" stroke="#565656" stroke-width="0.85"/>
<path d="M228.83 202.17H252.8" stroke="#0000ff" stroke-width="1.6"/>
<polygon points="240.51,199.17 238.06,203.47 242.96,203.47" fill="#0000ff" fill-opacity="0.15" stroke="#0000ff" stroke-width="1.1" stroke-linejoin="miter"/>
<text class="lg" transform="translate(254.61 204.82) rotate(0.05)" textLength="30.21" lengthAdjust="spacingAndGlyphs">LORSAL</text>
<path d="M228.83 210.77H252.8" stroke="#8d6a55" stroke-width="1.4"/>
<polygon points="240.51,207.37 241.31,209.67 243.75,209.72 241.81,211.19 242.51,213.52 240.51,212.13 238.52,213.52 239.22,211.19 237.28,209.72 239.71,209.67" fill="#8d6a55" fill-opacity="0.5" stroke="#8d6a55" stroke-width="0.9" stroke-linejoin="miter"/>
<text class="lg" transform="translate(254.61 213.42) rotate(0.05)" textLength="16.72" lengthAdjust="spacingAndGlyphs">SVM</text>
<path d="M228.83 219.38H252.8" stroke="#ff00ff" stroke-width="1.6"/>
<path d="M240.51 216.68V222.08M237.81 219.38H243.21M238.6 217.47L242.42 221.28M238.6 221.28L242.42 217.47" stroke="#ff00ff" stroke-width="1.3" fill="none"/>
<text class="lg" transform="translate(254.61 222.03) rotate(0.05)" textLength="10.57" lengthAdjust="spacingAndGlyphs">NB</text>
<clipPath id="clip_e"><rect x="120.8" y="374.6" width="142.5" height="136.8"/></clipPath>
<path d="M136.6 374.6V511.4M158.85 374.6V511.4M181.1 374.6V511.4M203.35 374.6V511.4M225.6 374.6V511.4M247.85 374.6V511.4M120.8 496.2H263.3M120.8 481H263.3M120.8 465.8H263.3M120.8 450.6H263.3M120.8 435.4H263.3M120.8 420.2H263.3M120.8 405H263.3M120.8 389.8H263.3" stroke="#e0e0e0" stroke-width="0.7" fill="none"/>
<g clip-path="url(#clip_e)">
<path d="M136.6 425.22V443.58M135.1 425.22H138.1M135.1 462.91H138.1M158.85 431.3V446.19M157.35 431.3H160.35M157.35 472.03H160.35M181.1 431.9V440.87M179.6 431.9H182.6M179.6 468.38H182.6M201.85 419.59H204.85M201.85 454.25H204.85M224.1 404.7H227.1M224.1 444.22H227.1M247.85 388.28V393.75M246.35 388.28H249.35M246.35 421.11H249.35" stroke="#0000ff" stroke-width="1.3" fill="none"/>
<polyline points="136.6,444.06 158.85,451.66 181.1,450.14 203.35,436.92 225.6,424.46 247.85,404.7" fill="none" stroke="#0000ff" stroke-width="1.5" stroke-linejoin="round"/>
<polygon points="136.6,441.06 134.15,445.36 139.05,445.36" fill="#0000ff" fill-opacity="0.45" stroke="#0000ff" stroke-width="1.1" stroke-linejoin="miter"/>
<polygon points="158.85,448.66 156.4,452.96 161.3,452.96" fill="#0000ff" fill-opacity="0.45" stroke="#0000ff" stroke-width="1.1" stroke-linejoin="miter"/>
<polygon points="181.1,447.14 178.65,451.44 183.55,451.44" fill="#0000ff" fill-opacity="0.45" stroke="#0000ff" stroke-width="1.1" stroke-linejoin="miter"/>
<polygon points="203.35,433.92 200.9,438.22 205.8,438.22" fill="#0000ff" fill-opacity="0.45" stroke="#0000ff" stroke-width="1.1" stroke-linejoin="miter"/>
<polygon points="225.6,421.46 223.15,425.76 228.05,425.76" fill="#0000ff" fill-opacity="0.45" stroke="#0000ff" stroke-width="1.1" stroke-linejoin="miter"/>
<polygon points="247.85,401.7 245.4,406 250.3,406" fill="#0000ff" fill-opacity="0.45" stroke="#0000ff" stroke-width="1.1" stroke-linejoin="miter"/>
</g>
<g clip-path="url(#clip_e)">
<path d="M136.6 463.34V527.66M135.1 445.58H138.1M135.1 527.66H138.1M158.85 467.17V536.02M157.35 450.9H160.35M157.35 536.02H160.35M181.1 440.87V444.06M181.1 465.04V528.42M179.6 440.87H182.6M179.6 528.42H182.6M203.35 406.82V419.59M203.35 453.03V490.73M201.85 406.82H204.85M201.85 490.73H204.85M225.6 397.7V410.47M225.6 448.17V474.92M224.1 397.7H227.1M224.1 474.92H227.1M247.85 393.75V414.42M247.85 444.22V456.38M246.35 393.75H249.35M246.35 456.38H249.35" stroke="#8d6a55" stroke-width="1.15" fill="none"/>
<polyline points="136.6,486.62 158.85,493.46 181.1,484.65 203.35,448.78 225.6,436.31 247.85,425.06" fill="none" stroke="#8d6a55" stroke-width="1.35" stroke-linejoin="round"/>
<polygon points="136.6,483.22 137.4,485.52 139.83,485.57 137.89,487.04 138.6,489.37 136.6,487.98 134.6,489.37 135.31,487.04 133.37,485.57 135.8,485.52" fill="#8d6a55" fill-opacity="0.5" stroke="#8d6a55" stroke-width="0.9" stroke-linejoin="miter"/>
<polygon points="158.85,490.06 159.65,492.36 162.08,492.41 160.14,493.88 160.85,496.21 158.85,494.82 156.85,496.21 157.56,493.88 155.62,492.41 158.05,492.36" fill="#8d6a55" fill-opacity="0.5" stroke="#8d6a55" stroke-width="0.9" stroke-linejoin="miter"/>
<polygon points="181.1,481.25 181.9,483.55 184.33,483.6 182.39,485.07 183.1,487.4 181.1,486.01 179.1,487.4 179.81,485.07 177.87,483.6 180.3,483.55" fill="#8d6a55" fill-opacity="0.5" stroke="#8d6a55" stroke-width="0.9" stroke-linejoin="miter"/>
<polygon points="203.35,445.38 204.15,447.68 206.58,447.73 204.64,449.2 205.35,451.53 203.35,450.14 201.35,451.53 202.06,449.2 200.12,447.73 202.55,447.68" fill="#8d6a55" fill-opacity="0.5" stroke="#8d6a55" stroke-width="0.9" stroke-linejoin="miter"/>
<polygon points="225.6,432.91 226.4,435.21 228.83,435.26 226.89,436.73 227.6,439.06 225.6,437.67 223.6,439.06 224.31,436.73 222.37,435.26 224.8,435.21" fill="#8d6a55" fill-opacity="0.5" stroke="#8d6a55" stroke-width="0.9" stroke-linejoin="miter"/>
<polygon points="247.85,421.66 248.65,423.96 251.08,424.01 249.14,425.48 249.85,427.81 247.85,426.42 245.85,427.81 246.56,425.48 244.62,424.01 247.05,423.96" fill="#8d6a55" fill-opacity="0.5" stroke="#8d6a55" stroke-width="0.9" stroke-linejoin="miter"/>
</g>
<g clip-path="url(#clip_e)">
<path d="M136.6 443.58V463.34M135.1 443.58H138.1M135.1 463.34H138.1M158.85 446.19V467.17M157.35 446.19H160.35M157.35 467.17H160.35M181.1 444.06V465.04M179.6 444.06H182.6M179.6 465.04H182.6M203.35 419.59V453.03M201.85 419.59H204.85M201.85 453.03H204.85M225.6 410.47V448.17M224.1 410.47H227.1M224.1 448.17H227.1M247.85 414.42V444.22M246.35 414.42H249.35M246.35 444.22H249.35" stroke="#ff00ff" stroke-width="1.3" fill="none"/>
<polyline points="136.6,453.46 158.85,456.68 181.1,454.55 203.35,436.31 225.6,429.32 247.85,429.32" fill="none" stroke="#ff00ff" stroke-width="1.5" stroke-linejoin="round"/>
<path d="M136.6 450.76V456.16M133.9 453.46H139.3M134.69 451.55L138.51 455.37M134.69 455.37L138.51 451.55" stroke="#ff00ff" stroke-width="1.3" fill="none"/>
<path d="M158.85 453.98V459.38M156.15 456.68H161.55M156.94 454.77L160.76 458.59M156.94 458.59L160.76 454.77" stroke="#ff00ff" stroke-width="1.3" fill="none"/>
<path d="M181.1 451.85V457.25M178.4 454.55H183.8M179.19 452.64L183.01 456.46M179.19 456.46L183.01 452.64" stroke="#ff00ff" stroke-width="1.3" fill="none"/>
<path d="M203.35 433.61V439.01M200.65 436.31H206.05M201.44 434.4L205.26 438.22M201.44 438.22L205.26 434.4" stroke="#ff00ff" stroke-width="1.3" fill="none"/>
<path d="M225.6 426.62V432.02M222.9 429.32H228.3M223.69 427.41L227.51 431.23M223.69 431.23L227.51 427.41" stroke="#ff00ff" stroke-width="1.3" fill="none"/>
<path d="M247.85 426.62V432.02M245.15 429.32H250.55M245.94 427.41L249.76 431.23M245.94 431.23L249.76 427.41" stroke="#ff00ff" stroke-width="1.3" fill="none"/>
</g>
<path d="M136.6 511.4V509.9M136.6 374.6V376.1M158.85 511.4V509.9M158.85 374.6V376.1M181.1 511.4V509.9M181.1 374.6V376.1M203.35 511.4V509.9M203.35 374.6V376.1M225.6 511.4V509.9M225.6 374.6V376.1M247.85 511.4V509.9M247.85 374.6V376.1M120.8 511.4H122.3M263.3 511.4H261.8M120.8 496.2H122.3M263.3 496.2H261.8M120.8 481H122.3M263.3 481H261.8M120.8 465.8H122.3M263.3 465.8H261.8M120.8 450.6H122.3M263.3 450.6H261.8M120.8 435.4H122.3M263.3 435.4H261.8M120.8 420.2H122.3M263.3 420.2H261.8M120.8 405H122.3M263.3 405H261.8M120.8 389.8H122.3M263.3 389.8H261.8M120.8 374.6H122.3M263.3 374.6H261.8" stroke="#444444" stroke-width="0.7" fill="none"/>
<rect x="120.8" y="374.6" width="142.5" height="136.8" fill="none" stroke="#444444" stroke-width="0.9"/>
<text class="tk" transform="translate(110.54 514) rotate(0.05)" textLength="7.36" lengthAdjust="spacingAndGlyphs">35</text>
<text class="tk" transform="translate(110.54 498.8) rotate(0.05)" textLength="7.36" lengthAdjust="spacingAndGlyphs">40</text>
<text class="tk" transform="translate(110.54 483.6) rotate(0.05)" textLength="7.36" lengthAdjust="spacingAndGlyphs">45</text>
<text class="tk" transform="translate(110.54 468.4) rotate(0.05)" textLength="7.36" lengthAdjust="spacingAndGlyphs">50</text>
<text class="tk" transform="translate(110.54 453.2) rotate(0.05)" textLength="7.36" lengthAdjust="spacingAndGlyphs">55</text>
<text class="tk" transform="translate(110.54 438) rotate(0.05)" textLength="7.36" lengthAdjust="spacingAndGlyphs">60</text>
<text class="tk" transform="translate(110.54 422.8) rotate(0.05)" textLength="7.36" lengthAdjust="spacingAndGlyphs">65</text>
<text class="tk" transform="translate(110.54 407.6) rotate(0.05)" textLength="7.36" lengthAdjust="spacingAndGlyphs">70</text>
<text class="tk" transform="translate(110.54 392.4) rotate(0.05)" textLength="7.36" lengthAdjust="spacingAndGlyphs">75</text>
<text class="tk" transform="translate(110.54 377.2) rotate(0.05)" textLength="7.36" lengthAdjust="spacingAndGlyphs">80</text>
<text class="tk" transform="translate(128.03 521.4) rotate(0.05)" textLength="17.14" lengthAdjust="spacingAndGlyphs">Delta</text>
<text class="tk" transform="translate(149.72 521.4) rotate(0.05)" textLength="18.25" lengthAdjust="spacingAndGlyphs">Theta</text>
<text class="tk" transform="translate(171.42 521.4) rotate(0.05)" textLength="19.36" lengthAdjust="spacingAndGlyphs">Alpha</text>
<text class="tk" transform="translate(196.69 521.4) rotate(0.05)" textLength="13.31" lengthAdjust="spacingAndGlyphs">Beta</text>
<text class="tk" transform="translate(212.89 521.4) rotate(0.05)" textLength="25.41" lengthAdjust="spacingAndGlyphs">Gamma</text>
<text class="tk" transform="translate(239.58 521.4) rotate(0.05)" textLength="16.54" lengthAdjust="spacingAndGlyphs">Total</text>
<text class="xl" transform="translate(126.1 531.8) rotate(0.05)" textLength="131" lengthAdjust="spacingAndGlyphs">Different Frequency Bands for DCAU</text>
<text class="yl" transform="translate(105.9 443.5) rotate(-90.05)" x="-36.8" textLength="73.6" lengthAdjust="spacingAndGlyphs">Precision (mean in %)</text>
<text class="cap" transform="translate(189.2 543.9) rotate(0.05)" text-anchor="middle">(e)</text>
<rect x="192.5" y="476.2" width="63.1" height="28.2" fill="#fff" stroke="#565656" stroke-width="0.85"/>
<path d="M197.04 481.92H221.04" stroke="#0000ff" stroke-width="1.6"/>
<polygon points="208.74,478.92 206.29,483.22 211.19,483.22" fill="#0000ff" fill-opacity="0.15" stroke="#0000ff" stroke-width="1.1" stroke-linejoin="miter"/>
<text class="lg" transform="translate(222.86 484.57) rotate(0.05)" textLength="30.25" lengthAdjust="spacingAndGlyphs">LORSAL</text>
<path d="M197.04 490.47H221.04" stroke="#8d6a55" stroke-width="1.4"/>
<polygon points="208.74,487.07 209.54,489.37 211.97,489.42 210.03,490.89 210.74,493.22 208.74,491.83 206.74,493.22 207.44,490.89 205.5,489.42 207.94,489.37" fill="#8d6a55" fill-opacity="0.5" stroke="#8d6a55" stroke-width="0.9" stroke-linejoin="miter"/>
<text class="lg" transform="translate(222.86 493.12) rotate(0.05)" textLength="16.74" lengthAdjust="spacingAndGlyphs">SVM</text>
<path d="M197.04 499.01H221.04" stroke="#ff00ff" stroke-width="1.6"/>
<path d="M208.74 496.31V501.71M206.04 499.01H211.44M206.83 497.1L210.65 500.92M206.83 500.92L210.65 497.1" stroke="#ff00ff" stroke-width="1.3" fill="none"/>
<text class="lg" transform="translate(222.86 501.66) rotate(0.05)" textLength="10.59" lengthAdjust="spacingAndGlyphs">NB</text>
</svg>
</body></html>
